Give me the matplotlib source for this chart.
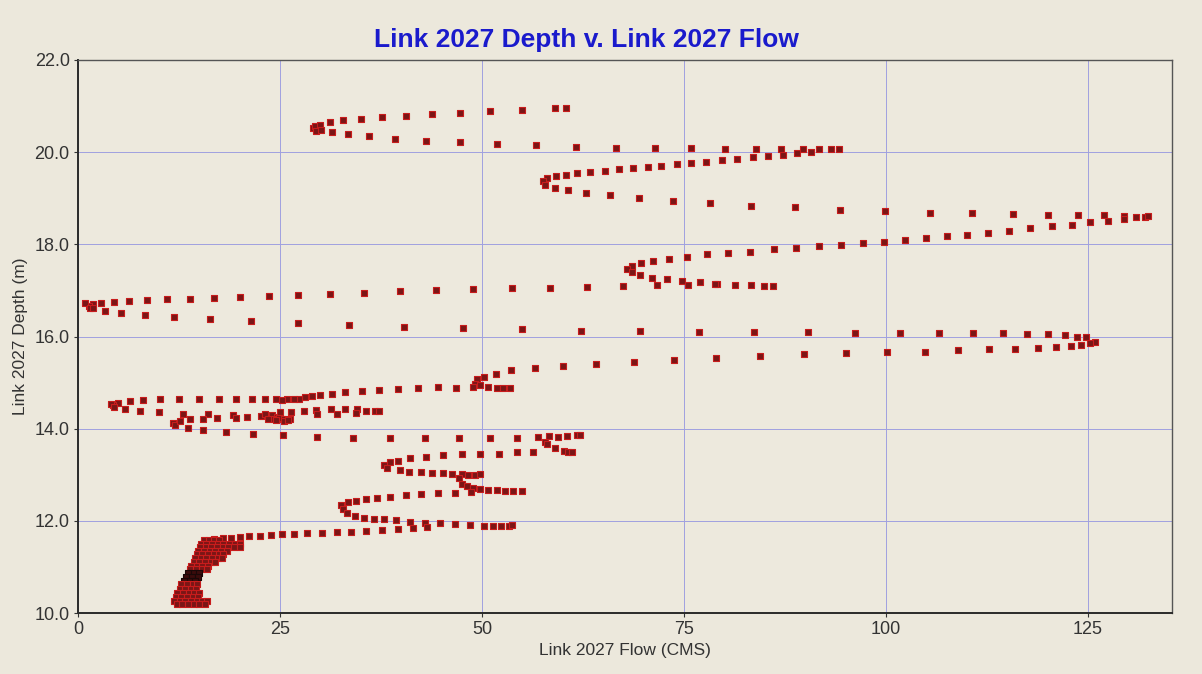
import matplotlib
matplotlib.use("Agg")
import matplotlib.pyplot as plt

plt.rcParams['font.family'] = ['Liberation Sans', 'DejaVu Sans']

# lazo superior (20.1 - 21.0 m)
flow_a = [29.1, 29.3, 30.0, 31.2, 32.8, 35.0, 37.6, 40.6, 43.8, 47.3, 51.0, 55.0, 59.0, 60.4,
          29.5, 30.1, 31.4, 33.4, 36.0, 39.2, 43.1, 47.3, 51.9, 56.7, 61.6]
depth_a = [20.52, 20.57, 20.60, 20.65, 20.70, 20.73, 20.76, 20.79, 20.82, 20.85, 20.89, 20.91, 20.95, 20.96,
           20.46, 20.48, 20.43, 20.39, 20.34, 20.29, 20.24, 20.21, 20.18, 20.15, 20.12]

# lazo 18.7 - 20.1 m
flow_b = [66.6, 71.4, 75.9, 80.1, 83.9, 87.0, 89.7, 91.7, 93.2, 94.2,
          90.7, 89.0, 87.3, 85.4, 83.5, 81.6, 79.7, 77.7, 75.9, 74.1, 72.2, 70.5, 68.7, 66.9, 65.2, 63.4,
          61.8, 60.4, 59.1, 58.1, 57.6, 57.8,
          59.0, 60.6, 62.9, 65.8, 69.4, 73.6, 78.2, 83.3, 88.7, 94.3]
depth_b = [20.10, 20.08, 20.08, 20.06, 20.06, 20.07, 20.07, 20.07, 20.06, 20.06,
           20.01, 19.98, 19.94, 19.92, 19.89, 19.85, 19.82, 19.79, 19.76, 19.74, 19.71, 19.68, 19.65, 19.63, 19.59, 19.57,
           19.54, 19.51, 19.48, 19.43, 19.38, 19.29,
           19.23, 19.18, 19.12, 19.06, 19.00, 18.95, 18.89, 18.83, 18.80, 18.75]

# lazo 17.1 - 18.7 m
flow_c = [99.9, 105.5, 110.7, 115.7, 120.1, 123.8, 127.0, 129.4, 129.4, 131.0, 132.0, 132.4,
          127.5, 125.3, 123.0, 120.5, 117.8, 115.2, 112.6, 110.0, 107.5, 104.9,
          102.3, 99.8, 97.1, 94.4, 91.7, 88.9, 86.1, 83.2, 80.5, 77.8,
          75.4, 73.1, 71.2, 69.7, 68.6, 68.0, 68.6,
          69.6, 71.0, 72.9, 74.8, 77.0, 79.1, 81.3, 83.3, 84.9, 86.0,
          67.5, 71.7, 75.5, 78.8]
depth_c = [18.72, 18.69, 18.67, 18.66, 18.64, 18.64, 18.64, 18.62, 18.55, 18.60, 18.60, 18.61,
           18.51, 18.48, 18.43, 18.40, 18.35, 18.30, 18.25, 18.21, 18.18, 18.13,
           18.10, 18.05, 18.02, 17.99, 17.96, 17.93, 17.89, 17.84, 17.82, 17.79,
           17.73, 17.69, 17.64, 17.60, 17.54, 17.46, 17.39,
           17.33, 17.28, 17.24, 17.20, 17.18, 17.13, 17.12, 17.11, 17.10, 17.10,
           17.10, 17.11, 17.11, 17.13]

# lazo 14.9 - 17.1 m
flow_e = [63.0, 58.4, 53.7, 48.9, 44.3, 39.8, 35.4, 31.2, 27.2, 23.6, 20.1, 16.8, 13.8, 11.0, 8.6,
          6.3, 4.4, 2.9, 1.9, 1.3, 0.9, 1.5,
          1.9, 3.3, 5.3, 8.3, 11.9, 16.3, 21.4, 27.2, 33.6, 40.4, 47.6, 55.0, 62.2, 69.6,
          76.9, 83.7, 90.3, 96.2, 101.7, 106.6, 110.8, 114.5, 117.4, 120.0, 122.1, 123.7, 124.8, 125.9,
          125.2, 124.1, 122.9, 121.1, 118.8, 116.0, 112.7, 108.9, 104.8, 100.1, 95.1, 89.8, 84.4,
          79.0, 73.8, 68.8, 64.1, 60.0, 56.6, 53.6, 51.7, 50.3, 49.4, 49.1, 48.9,
          49.8, 50.7, 51.8, 52.6, 53.5]
depth_e = [17.08, 17.06, 17.05, 17.02, 17.00, 16.98, 16.95, 16.93, 16.91, 16.87, 16.86, 16.84, 16.82, 16.81, 16.79,
           16.76, 16.75, 16.72, 16.70, 16.66, 16.73, 16.62,
           16.62, 16.56, 16.52, 16.47, 16.42, 16.37, 16.33, 16.29, 16.25, 16.21, 16.18, 16.16, 16.13, 16.12,
           16.10, 16.10, 16.09, 16.08, 16.08, 16.08, 16.08, 16.08, 16.06, 16.05, 16.03, 16.00, 15.99, 15.89,
           15.86, 15.82, 15.80, 15.78, 15.75, 15.73, 15.72, 15.70, 15.67, 15.66, 15.64, 15.61, 15.58,
           15.54, 15.50, 15.45, 15.41, 15.37, 15.32, 15.27, 15.19, 15.13, 15.08, 14.98, 14.91,
           14.95, 14.91, 14.89, 14.89, 14.89]

# lazo 14.0 - 14.9 m
flow_g = [46.8, 44.5, 42.1, 39.6, 37.3, 35.1, 33.0, 31.4, 30.0, 29.0, 28.1, 27.4, 26.7, 25.9, 25.2,
          24.5, 23.2, 21.5, 19.6, 17.4, 15.0, 12.5, 10.2, 8.0, 6.4, 4.9, 4.3, 4.1, 4.5,
          5.8, 7.7, 10.0, 13.0, 16.1, 19.2, 20.9, 22.7, 23.1, 24.0, 24.6, 25.2, 25.8,
          25.0, 26.4, 28.0, 29.5, 31.3, 33.0, 34.5, 35.7, 36.8, 37.2, 29.6, 32.1, 34.4,
          11.7, 12.0, 12.6, 13.9, 15.5, 17.2, 19.6, 24.2, 24.9, 25.5, 26.2,
          23.5, 24.5, 25.5, 26.0]
depth_g = [14.89, 14.90, 14.88, 14.85, 14.84, 14.82, 14.79, 14.76, 14.72, 14.71, 14.68, 14.65, 14.64, 14.64, 14.63,
           14.64, 14.64, 14.65, 14.65, 14.65, 14.65, 14.65, 14.64, 14.62, 14.59, 14.56, 14.51, 14.53, 14.48,
           14.42, 14.39, 14.36, 14.32, 14.32, 14.30, 14.25, 14.27, 14.32, 14.30, 14.26, 14.20, 14.19,
           14.36, 14.37, 14.39, 14.40, 14.43, 14.43, 14.43, 14.39, 14.39, 14.38, 14.31, 14.31, 14.33,
           14.12, 14.08, 14.17, 14.20, 14.21, 14.24, 14.24, 14.22, 14.24, 14.22, 14.21,
           14.22, 14.19, 14.17, 14.18]

# lazos 13.0 - 14.0 m
flow_h = [13.6, 15.5, 18.3, 21.6, 25.4, 29.6, 34.0, 38.6, 43.0, 47.1, 51.0, 54.3, 56.9, 58.3, 59.4, 60.5, 61.7, 62.1,
          57.8, 58.1, 59.0, 60.1, 60.7, 61.1,
          56.3, 54.3, 52.1, 49.8, 47.5, 45.2, 43.1, 41.1, 39.6, 38.6, 37.9, 38.3,
          39.8, 41.0, 42.4, 43.8, 45.2, 46.3, 47.5, 48.3, 49.1, 49.8]
depth_h = [14.01, 13.97, 13.92, 13.88, 13.86, 13.83, 13.80, 13.79, 13.79, 13.79, 13.79, 13.80, 13.81, 13.84, 13.83, 13.85, 13.86, 13.87,
           13.72, 13.67, 13.57, 13.51, 13.50, 13.49,
           13.49, 13.49, 13.46, 13.46, 13.44, 13.43, 13.39, 13.36, 13.30, 13.27, 13.21, 13.14,
           13.10, 13.07, 13.05, 13.03, 13.03, 13.02, 13.01, 12.99, 12.99, 13.02]

# lazos 11.9 - 12.9 m
flow_k = [47.1, 47.5, 48.1, 48.9, 49.8, 50.8, 51.8, 52.9, 53.9, 54.9,
          48.7, 46.7, 44.6, 42.5, 40.6, 38.6, 37.0, 35.6, 34.4, 33.4, 32.6, 32.8, 33.3,
          34.3, 35.4, 36.6, 37.9, 39.4, 41.1, 43.0, 44.8, 46.7, 48.5, 50.2, 51.4, 52.4, 53.3, 53.7]
depth_k = [12.92, 12.81, 12.76, 12.71, 12.68, 12.67, 12.67, 12.65, 12.65, 12.64,
           12.63, 12.61, 12.60, 12.58, 12.56, 12.52, 12.50, 12.47, 12.44, 12.41, 12.34, 12.25, 12.18,
           12.11, 12.07, 12.05, 12.03, 12.02, 11.98, 11.96, 11.95, 11.93, 11.91, 11.89, 11.89, 11.89, 11.89, 11.90]

# subida desde el grupo inferior
flow_l = [15.9, 16.8, 17.9, 18.9, 20.0, 21.2, 22.5, 23.9, 25.3, 26.7, 28.4, 30.2, 32.0, 33.8, 35.6, 37.6, 39.6, 41.5, 43.2]
depth_l = [11.55, 11.60, 11.62, 11.63, 11.64, 11.67, 11.68, 11.69, 11.71, 11.71, 11.73, 11.74, 11.75, 11.76, 11.79, 11.80, 11.82, 11.84, 11.86]

# grupo denso inferior: profundidad de cada fila y caudales de la fila
cluster_depth = [11.58, 11.50, 11.43, 11.35, 11.27, 11.19, 11.11, 11.03, 10.95,
                 10.86, 10.78, 10.70, 10.62, 10.53, 10.43, 10.35, 10.27, 10.20]
cluster_flow = [[15.6, 16.2, 16.8, 17.4],
                [15.2, 15.9, 16.6, 17.3, 18.0, 18.7, 19.4, 20.1],
                [15.1, 15.8, 16.5, 17.2, 17.9, 18.6, 19.3, 20.0],
                [14.9, 15.6, 16.3, 17.0, 17.7, 18.4],
                [14.7, 15.4, 16.1, 16.8, 17.5, 18.0],
                [14.5, 15.2, 15.9, 16.6, 17.3, 17.8],
                [14.3, 15.0, 15.7, 16.4, 17.0],
                [14.0, 14.7, 15.4, 16.1],
                [13.9, 14.6, 15.3, 16.0],
                [13.6, 14.3, 15.0],
                [13.4, 14.1, 14.8],
                [13.1, 13.8, 14.5],
                [12.8, 13.5, 14.2, 14.7],
                [12.6, 13.3, 14.0, 14.6],
                [12.3, 13.0, 13.7, 14.4, 15.0],
                [12.1, 12.8, 13.5, 14.2, 14.9],
                [11.9, 12.6, 13.3, 14.0, 14.7, 15.4, 16.0],
                [12.2, 12.9, 13.6, 14.3, 15.0, 15.7]]

x_ticks = [0, 25, 50, 75, 100, 125]
y_ticks = [10, 12, 14, 16, 18, 20, 22]

bg = '#ece8dc'
fig = plt.figure(figsize=(12.02, 6.74), dpi=100, facecolor=bg)
ax = fig.add_axes([78 / 1202, 61 / 674, 1094 / 1202, 553 / 674])
ax.set_facecolor('#ede9dd')

marca = dict(marker='s', s=17, facecolor='#7a1616', edgecolor='#c81c1c', linewidths=0.8, zorder=3)
for f, d in [(flow_a, depth_a), (flow_b, depth_b), (flow_c, depth_c), (flow_e, depth_e),
             (flow_g, depth_g), (flow_h, depth_h), (flow_k, depth_k), (flow_l, depth_l)]:
    ax.scatter(f, d, **marca)

for d, fila in zip(cluster_depth, cluster_flow):
    oscuro = 10.65 < d < 10.9
    ax.scatter(fila, [d] * len(fila), marker='s', s=17,
               facecolor='#3a0c0c' if oscuro else '#7a1616',
               edgecolor='#1a0808' if oscuro else '#c81c1c',
               linewidths=0.8, zorder=3)

ax.set_xlim(0, 135.4)
ax.set_ylim(10, 22)
ax.set_xticks(x_ticks)
ax.set_yticks(y_ticks)
ax.set_yticklabels([f'{v:.1f}' for v in y_ticks])
ax.grid(True, color='#a0a0e0', linewidth=0.7)
ax.set_axisbelow(True)
ax.tick_params(labelsize=13, colors='#333333', length=3, pad=3)

for lado in ['left', 'bottom']:
    ax.spines[lado].set_color('#2a2a2a')
    ax.spines[lado].set_linewidth(1.4)
for lado in ['top', 'right']:
    ax.spines[lado].set_color('#555555')
    ax.spines[lado].set_linewidth(1.0)

ax.set_xlabel('Link 2027 Flow (CMS)', fontsize=12.5, color='#333333', labelpad=3)
ax.set_ylabel('Link 2027 Depth (m)', fontsize=12.5, color='#333333', labelpad=5)
fig.text(0.488, 0.941, 'Link 2027 Depth v. Link 2027 Flow', ha='center', va='center',
         fontsize=19, fontweight='bold', color='#1a1acc')

fig.savefig('out.png', dpi=100, facecolor=bg)
